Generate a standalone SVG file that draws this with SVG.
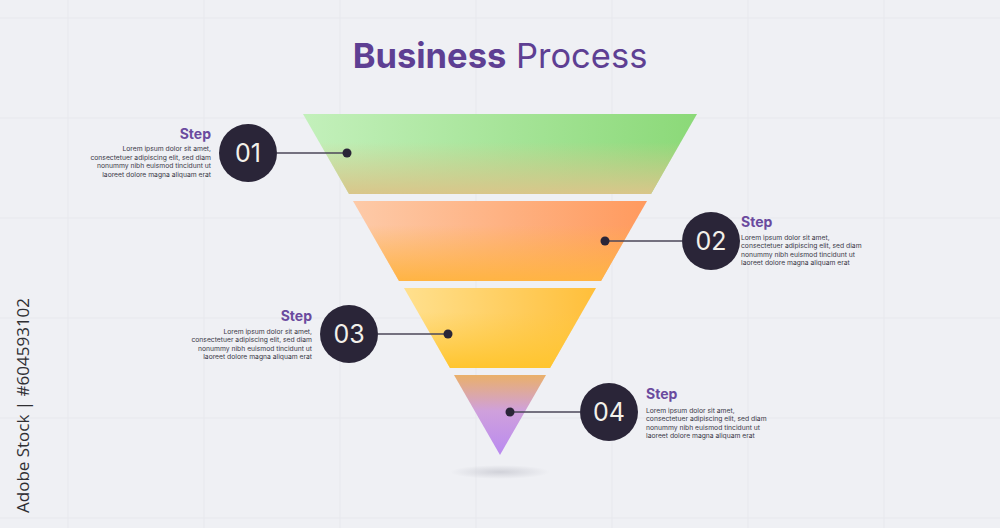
<svg xmlns="http://www.w3.org/2000/svg" width="1000" height="528" viewBox="0 0 1000 528">
<defs>
<style>
.title{font-family:Inter,"Noto Sans",sans-serif;font-size:34.5px;fill:#5e3f93}
.step{font-family:Inter,"Noto Sans",sans-serif;font-size:14px;font-weight:700;fill:#6a4a9e}
.body{font-family:Inter,"Noto Sans",sans-serif;font-size:6.75px;fill:#3b3a48}
.num{font-family:Inter,"Noto Sans",sans-serif;font-size:25px;fill:#f3f1ea;text-anchor:middle}
.circ{fill:#2a2538}
.conn{stroke:#4b4759;stroke-width:1.6;fill:none}
.dot{fill:#2a2538}
.grid{stroke:#e7e8ed;stroke-width:1}
</style>
<linearGradient id="g1a" x1="0" y1="0" x2="1" y2="0"><stop offset="0" stop-color="#c3f0bb"/><stop offset="1" stop-color="#8bd978"/></linearGradient>
<linearGradient id="g1b" x1="0" y1="0" x2="0" y2="1"><stop offset="0.35" stop-color="#d9c68a" stop-opacity="0"/><stop offset="1" stop-color="#d9c68a" stop-opacity="1"/></linearGradient>
<linearGradient id="g2a" x1="0" y1="0" x2="1" y2="0"><stop offset="0" stop-color="#fdcaa8"/><stop offset="1" stop-color="#ff9a5e"/></linearGradient>
<linearGradient id="g2b" x1="0" y1="0" x2="0" y2="1"><stop offset="0.3" stop-color="#ffb443" stop-opacity="0"/><stop offset="1" stop-color="#ffb443" stop-opacity="1"/></linearGradient>
<linearGradient id="g3a" x1="0" y1="0" x2="1" y2="0"><stop offset="0" stop-color="#ffe08e"/><stop offset="1" stop-color="#ffbf3a"/></linearGradient>
<linearGradient id="g3b" x1="0" y1="0" x2="0" y2="1"><stop offset="0.3" stop-color="#ffc93a" stop-opacity="0"/><stop offset="1" stop-color="#ffc52e" stop-opacity="1"/></linearGradient>
<linearGradient id="g4" x1="0" y1="0" x2="0" y2="1"><stop offset="0" stop-color="#eab06a"/><stop offset="0.45" stop-color="#cfa0dc"/><stop offset="1" stop-color="#b98af0"/></linearGradient>
<radialGradient id="sh" cx="0.5" cy="0.5" r="0.5"><stop offset="0" stop-color="#c9cad2" stop-opacity="0.8"/><stop offset="1" stop-color="#c9cad2" stop-opacity="0"/></radialGradient>
</defs>
<rect width="1000" height="528" fill="#eff0f4"/>
<g id="grid">
<path class="grid" d="M68 0V528M204 0V528M340 0V528M476 0V528M612 0V528M748 0V528M884 0V528M0 18H1000M0 118H1000M0 218H1000M0 318H1000M0 418H1000M0 518H1000"/>
</g>
<g id="title"><text class="title" x="500" y="68" text-anchor="middle"><tspan font-weight="700">Business</tspan> Process</text></g>
<ellipse cx="500" cy="472" rx="50" ry="7" fill="url(#sh)"/>
<g id="funnel">
<g id="seg1"><polygon points="303,114 697,114 651,194 349,194" fill="url(#g1a)"/><polygon points="303,114 697,114 651,194 349,194" fill="url(#g1b)"/></g>
<g id="seg2"><polygon points="353,201 647,201 601,281 399,281" fill="url(#g2a)"/><polygon points="353,201 647,201 601,281 399,281" fill="url(#g2b)"/></g>
<g id="seg3"><polygon points="404,288 596,288 550,368 450,368" fill="url(#g3a)"/><polygon points="404,288 596,288 550,368 450,368" fill="url(#g3b)"/></g>
<g id="seg4"><polygon points="454,375 546,375 500,455" fill="url(#g4)"/></g>
</g>
<g id="connectors">
<line class="conn" x1="277" y1="153" x2="347" y2="153"/><circle class="dot" cx="347" cy="153" r="4.5"/>
<line class="conn" x1="605" y1="241" x2="682" y2="241"/><circle class="dot" cx="605" cy="241" r="4.5"/>
<line class="conn" x1="378" y1="334" x2="448" y2="334"/><circle class="dot" cx="448" cy="334" r="4.5"/>
<line class="conn" x1="510" y1="412" x2="580" y2="412"/><circle class="dot" cx="510" cy="412" r="4.5"/>
</g>
<g id="step1">
<circle class="circ" cx="248" cy="153" r="29"/><text class="num" x="248" y="162">01</text>
<text class="step" x="211" y="139" text-anchor="end">Step</text>
<text class="body" text-anchor="end"><tspan x="211" y="151">Lorem ipsum dolor sit amet,</tspan><tspan x="211" y="159.5">consectetuer adipiscing elit, sed diam</tspan><tspan x="211" y="168">nonummy nibh euismod tincidunt ut</tspan><tspan x="211" y="176.5">laoreet dolore magna aliquam erat</tspan></text>
</g>
<g id="step2">
<circle class="circ" cx="711" cy="241" r="29"/><text class="num" x="711" y="250">02</text>
<text class="step" x="741" y="227">Step</text>
<text class="body"><tspan x="741" y="239.5">Lorem ipsum dolor sit amet,</tspan><tspan x="741" y="248">consectetuer adipiscing elit, sed diam</tspan><tspan x="741" y="256.5">nonummy nibh euismod tincidunt ut</tspan><tspan x="741" y="265">laoreet dolore magna aliquam erat</tspan></text>
</g>
<g id="step3">
<circle class="circ" cx="349" cy="334" r="29"/><text class="num" x="349" y="343">03</text>
<text class="step" x="312" y="320.5" text-anchor="end">Step</text>
<text class="body" text-anchor="end"><tspan x="312" y="333.5">Lorem ipsum dolor sit amet,</tspan><tspan x="312" y="342">consectetuer adipiscing elit, sed diam</tspan><tspan x="312" y="350.5">nonummy nibh euismod tincidunt ut</tspan><tspan x="312" y="359">laoreet dolore magna aliquam erat</tspan></text>
</g>
<g id="step4">
<circle class="circ" cx="609" cy="412" r="29"/><text class="num" x="609" y="421">04</text>
<text class="step" x="646" y="399">Step</text>
<text class="body"><tspan x="646" y="412.5">Lorem ipsum dolor sit amet,</tspan><tspan x="646" y="421">consectetuer adipiscing elit, sed diam</tspan><tspan x="646" y="429.5">nonummy nibh euismod tincidunt ut</tspan><tspan x="646" y="438">laoreet dolore magna aliquam erat</tspan></text>
</g>
<text x="29" y="513" transform="rotate(-90 29 513)" font-family="'Open Sans',sans-serif" font-size="17" fill="#2f2f33">Adobe Stock | #604593102</text>
</svg>
